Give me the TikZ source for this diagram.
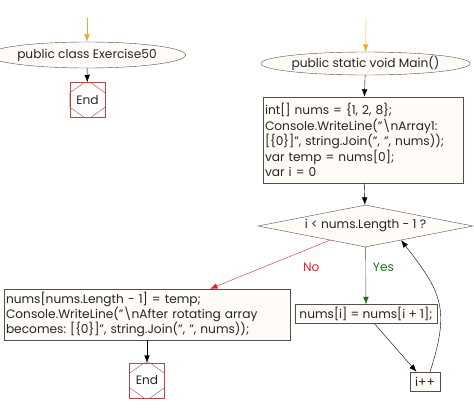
\documentclass[tikz,border=0pt]{standalone}
\usepackage{fontspec}
\setmainfont{Poppins}
\usetikzlibrary{
    calc,
    arrows.meta,
    shapes.geometric
}
\frenchspacing
\definecolor{boxfill}{HTML}{FFFBF6}
\definecolor{boxline}{HTML}{505050}
\definecolor{endline}{HTML}{B5474B}
\definecolor{startarrow}{HTML}{F4A62A}
\definecolor{noline}{HTML}{D9262B}
\definecolor{yesline}{HTML}{1E6E1E}
\tikzset{
    flow/.style={draw=boxline, fill=boxfill, text=black!85, font=\fontsize{12.2}{15.4}\selectfont},
    term/.style={flow, ellipse, inner sep=0pt},
    proc/.style={flow, rectangle, inner sep=2pt, align=left},
    test/.style={flow, diamond, inner sep=0pt},
    stop/.style={flow, draw=endline, fill=none, minimum size=35pt, inner sep=0pt},
    link/.style={-{Latex[length=7.5pt,width=5.5pt]}, draw=black},
    tag/.style={font=\fontsize{12.2}{14}\selectfont, inner sep=1pt},
}

\begin{document}
\begin{tikzpicture}[x=1pt,y=-1pt]
      \useasboundingbox (0,0) rectangle (474,412);
      % left column
      \node[term, minimum width=167, minimum height=26] (cls) at (87,55) {public class Exercise50};
      \node[stop] (end1) at (87.5,100) {End};
      \coordinate (in1) at (87,18);
      % right column
      \node[term, minimum width=175, minimum height=23] (main) at (365.5,63.5) {public static void Main()};
      \coordinate (in2) at (366,18);
      \node[proc, text width=196, minimum height=86] (init) at (363,140)
        {int[] nums = \{1, 2, 8\};\\
         Console.WriteLine("\textbackslash nArray1:\\{}%
         [\{0\}]", string.Join(", ", nums));\\
         var temp = nums[0];\\
         var i = 0};
      \node[test, aspect=5.1, minimum width=215, minimum height=42] (cond) at (365.5,226) {i < nums.Length - 1 ?};
      \node[proc, minimum width=142, minimum height=19] (body) at (366,314) {nums[i] = nums[i + 1];};
      \node[proc, minimum width=30, minimum height=19] (inc) at (425,381.5) {i++};
      \node[proc, text width=282, minimum height=51] (last) at (147,314.5)
        {nums[nums.Length - 1] = temp;\\
         Console.WriteLine("\textbackslash nAfter rotating array\\
         becomes: [\{0\}]", string.Join(", ", nums));};
      \node[stop] (end2) at (147,380.5) {End};
      % end marks
      \foreach \e in {end1,end2}
        \draw[endline] ($(\e.north west)!.42!(\e.north east)$) -- ($(\e.north west)!.3!(\e.south west)$)
          -- ($(\e.north west)!.7!(\e.south west)$) -- ($(\e.south west)!.42!(\e.south east)$)
          -- ($(\e.south west)!.58!(\e.south east)$) -- ($(\e.north east)!.7!(\e.south east)$)
          -- ($(\e.north east)!.3!(\e.south east)$) -- ($(\e.north west)!.58!(\e.north east)$) -- cycle;
      % connectors
      \draw[link, startarrow] (in1) -- (cls);
      \draw[link, startarrow] (in2) -- (main);
      \draw[link] (cls) -- (end1);
      \draw[link] (main) -- (init);
      \draw[link] (init) -- (cond);
      \draw[link, noline] ($(cond.west)!.67!(cond.south)$) -- ($(last.north west)!.72!(last.north east)$)
        node[tag, pos=.2, anchor=north west, xshift=-4, yshift=-12] {No};
      \draw[link, yesline] (cond) -- (body)
        node[tag, pos=.36, anchor=west, xshift=6] {Yes};
      \draw[link] (body) -- (inc);
      \draw[link] ([xshift=5]inc.north) to[out=72, in=-52, looseness=1.25] ($(cond.south)!.33!(cond.east)$);
      \draw[link] (last.south) -- (end2);
\end{tikzpicture}
\end{document}
